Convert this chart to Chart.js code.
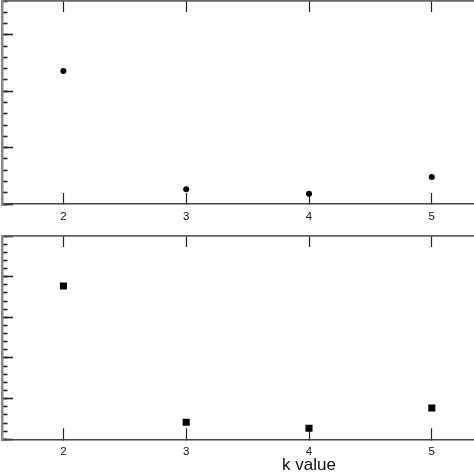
<!DOCTYPE html>
<html>
<head>
<meta charset="utf-8">
<script src="https://cdn.jsdelivr.net/npm/chart.js@4.4.1/dist/chart.umd.min.js"></script>
<style>
  html, body { margin: 0; padding: 0; background: #fff; overflow: hidden; width: 474px; height: 474px; }
  .panel { position: absolute; left: 0; }
</style>
</head>
<body>
<div class="panel" style="top:0px"><canvas id="top-chart" width="616" height="230"></canvas></div>
<div class="panel" style="top:230px"><canvas id="bottom-chart" width="616" height="250"></canvas></div>
<script>
// k values on the x axis
const kValues = [2, 3, 4, 5];
// upper panel (circles), arbitrary units: major tick = 1
const topValues = [2.36, 0.26, 0.18, 0.48];
// lower panel (squares)
const bottomValues = [3.77, 0.42, 0.27, 0.77];
const xTickValues = [2, 3, 4, 5, 6];

const X_MIN = 1.5;
const X_MAX = 6.5;

function makePanel(canvasId, values, yMax, opts) {
  const points = kValues.map((k, i) => ({ x: k, y: values[i] }));
  const ctx = document.getElementById(canvasId).getContext("2d");
  return new Chart(ctx, {
    type: "scatter",
    data: {
      datasets: [
        {
          data: points,
          pointStyle: opts.pointStyle,
          pointRadius: opts.radius,
          backgroundColor: "#000",
          borderColor: "#000",
          borderWidth: 0,
          showLine: false,
        },
      ],
    },
    options: {
      responsive: false,
      animation: false,
      events: [],
      layout: { autoPadding: false, padding: { left: 2, right: 0, top: opts.padTop, bottom: 0 } },
      plugins: { legend: { display: false }, tooltip: { enabled: false } },
      scales: {
        x: {
          type: "linear",
          position: "bottom",
          min: X_MIN,
          max: X_MAX,
          afterBuildTicks: (s) => { s.ticks = xTickValues.map((v) => ({ value: v })); },
          ticks: {
            includeBounds: false,
            padding: opts.labelPad,
            color: "#111",
            font: { family: "'Liberation Sans', Arial, sans-serif", size: 11.5 },
            maxRotation: 0,
          },
          grid: { drawOnChartArea: false, tickLength: -11, tickColor: "#222", tickWidth: 1.2 },
          border: { display: true, color: "#444", width: 1.6 },
          title: {
            display: opts.showTitle,
            text: "k value",
            color: "#111",
            font: { family: "'Liberation Sans', Arial, sans-serif", size: 17, lineHeight: 1.2 },
            padding: { top: 0, bottom: 4 },
          },
          afterFit: (s) => { s.height = opts.xHeight; },
        },
        xTop: {
          type: "linear",
          position: "top",
          min: X_MIN,
          max: X_MAX,
          afterBuildTicks: (s) => { s.ticks = xTickValues.map((v) => ({ value: v })); },
          ticks: { display: false, includeBounds: false },
          grid: { drawOnChartArea: false, tickLength: -11, tickColor: "#222", tickWidth: 1.2 },
          border: { display: true, color: "#666", width: 1.8 },
          afterFit: (s) => { s.height = 0; },
        },
        y: {
          type: "linear",
          position: "left",
          min: 0,
          max: yMax,
          ticks: { display: false, stepSize: 1, includeBounds: false },
          grid: { drawOnChartArea: false, tickLength: -11, tickColor: "#222", tickWidth: 1.6 },
          border: { display: true, color: "#888", width: 2.5 },
          afterFit: (s) => { s.width = 0; },
        },
        yMinor: {
          type: "linear",
          position: "left",
          min: 0,
          max: yMax,
          ticks: { display: false, stepSize: 0.2, includeBounds: false },
          grid: { drawOnChartArea: false, tickLength: -5.5, tickColor: "#222", tickWidth: 1.6 },
          border: { display: false },
          afterFit: (s) => { s.width = 0; },
        },
      },
    },
  });
}

makePanel("top-chart", topValues, 3.6, {
  pointStyle: "circle",
  radius: 3,
  padTop: 1,
  xHeight: 26,
  labelPad: 17.4,
  showTitle: false,
});

makePanel("bottom-chart", bottomValues, 5, {
  pointStyle: "rect",
  radius: 5,
  padTop: 6,
  xHeight: 40.7,
  labelPad: 16.3,
  showTitle: true,
});
</script>
</body>
</html>
